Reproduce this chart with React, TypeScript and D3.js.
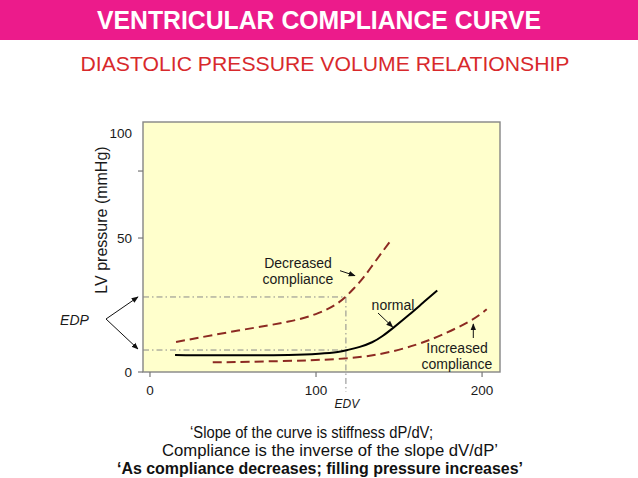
import React from "react";
import * as d3 from "d3";

// ---- data ----
const normalVolume = [15.1, 54.2, 86.1, 102.4, 114.5, 118.1, 126.5, 134.0, 140.0, 146.4, 156.6, 164.5, 173.0];
const normalPressure = [6.3, 6.2, 6.3, 6.8, 7.5, 8.1, 9.3, 11.0, 13.3, 16.4, 21.6, 25.9, 30.4];

const decreasedVolume = [15.7, 54.2, 86.1, 102.4, 112.0, 117.9, 122.5, 128.5, 134.5, 140.5, 145.6];
const decreasedPressure = [11.2, 15.7, 18.8, 22.0, 25.0, 28.0, 31.0, 35.0, 40.3, 45.3, 49.6];

const increasedVolume = [37.8, 78.3, 114.5, 138.6, 160.7, 174.7, 194.8, 202.8];
const increasedPressure = [3.6, 4.0, 4.7, 6.3, 10.1, 13.4, 19.4, 23.4];

const xTickValues = [0, 100, 200];
const xTickLabels = ["0", "100", "200"];
const yTickValues = [0, 50, 75, 89];
const yTickLabels = ["0", "50", "", "100"];

const edv = 118;
const edpHigh = 28;
const edpLow = 8.2;

const title = "VENTRICULAR COMPLIANCE CURVE";
const subtitle = "DIASTOLIC PRESSURE VOLUME RELATIONSHIP";
const yAxisTitle = "LV pressure (mmHg)";
const notes = [
  "\u2018Slope of the curve is stiffness dP/dV;",
  "Compliance is the inverse of the slope dV/dP\u2019",
];
const boldNote = "\u2018As compliance decreases; filling pressure increases\u2019";

// ---- layout ----
const W = 638;
const H = 478;
const plot = { left: 143, right: 500, top: 122, bottom: 372 };

const font = "Arial, 'Liberation Sans', sans-serif";
const dashRed = "#8c2a22";
const textCol = "#1a1a1a";

export default function App() {
  const x = d3.scaleLinear().domain([-4.2, 210.8]).range([plot.left, plot.right]);
  const y = d3.scaleLinear().domain([0, 93.3]).range([plot.bottom, plot.top]);

  const line = d3
    .line<[number, number]>()
    .x((d) => x(d[0]))
    .y((d) => y(d[1]))
    .curve(d3.curveBasis);

  const zip = (a: number[], b: number[]) => a.map((v, i) => [v, b[i]] as [number, number]);

  const normalPath = line(zip(normalVolume, normalPressure)) || "";
  const decreasedPath = line(zip(decreasedVolume, decreasedPressure)) || "";
  const increasedPath = line(zip(increasedVolume, increasedPressure)) || "";

  const refDash = "6,3,1.5,3";
  const refCol = "#8a8a8a";

  return (
    <svg
      width={W}
      height={H}
      viewBox={`0 0 ${W} ${H}`}
      style={{ position: "fixed", left: 0, top: 0, display: "block", background: "#ffffff" }}
      fontFamily={font}
    >
      <defs>
        <marker id="arr" viewBox="0 0 10 10" refX="9" refY="5" markerWidth="7" markerHeight="7" orient="auto" markerUnits="userSpaceOnUse">
          <path d="M0,1 L10,5 L0,9 Z" fill="#111" />
        </marker>
      </defs>

      {/* header */}
      <rect x={0} y={0} width={W} height={40} fill="#ec1b8b" />
      <text x={319} y={29} textAnchor="middle" fill="#ffffff" fontSize={25} fontWeight="bold" textLength={444} lengthAdjust="spacingAndGlyphs">
        {title}
      </text>
      <text x={325} y={71} textAnchor="middle" fill="#d8292c" fontSize={21} textLength={489} lengthAdjust="spacingAndGlyphs">
        {subtitle}
      </text>

      {/* plot area */}
      <rect
        x={plot.left}
        y={plot.top}
        width={plot.right - plot.left}
        height={plot.bottom - plot.top}
        fill="#ffffcc"
        stroke="#858585"
        strokeWidth={1.4}
      />

      {/* y axis ticks */}
      {yTickValues.map((v, i) => (
        <g key={"y" + i} transform={`translate(${plot.left},${y(v)})`}>
          {yTickLabels[i] !== "100" && <line x1={-5} x2={0} stroke="#777" strokeWidth={1.2} />}
          <text x={-11} dy="0.35em" textAnchor="end" fontSize={13.5} fill={textCol}>
            {yTickLabels[i]}
          </text>
        </g>
      ))}

      {/* x axis ticks */}
      {xTickValues.map((v, i) => (
        <g key={"x" + i} transform={`translate(${x(v)},${plot.bottom})`}>
          <line y1={0} y2={5} stroke="#777" strokeWidth={1.2} />
          <text y={22.7} textAnchor="middle" fontSize={13.5} fill={textCol}>
            {xTickLabels[i]}
          </text>
        </g>
      ))}

      {/* y axis title */}
      <text transform="translate(107,220) rotate(-90)" textAnchor="middle" fontSize={16} fill={textCol}>
        {yAxisTitle}
      </text>

      {/* EDP / EDV reference lines */}
      <line x1={plot.left} x2={x(edv)} y1={y(edpHigh)} y2={y(edpHigh)} stroke={refCol} strokeWidth={1} strokeDasharray={refDash} />
      <line x1={plot.left} x2={x(edv)} y1={y(edpLow)} y2={y(edpLow)} stroke={refCol} strokeWidth={1} strokeDasharray={refDash} />
      <line x1={x(edv)} x2={x(edv)} y1={y(edpHigh)} y2={392} stroke={refCol} strokeWidth={1} strokeDasharray={refDash} />

      {/* curves */}
      <path d={decreasedPath} fill="none" stroke={dashRed} strokeWidth={2} strokeDasharray="9,5" />
      <path d={increasedPath} fill="none" stroke={dashRed} strokeWidth={2} strokeDasharray="9,5" />
      <path d={normalPath} fill="none" stroke="#000" strokeWidth={2} />

      {/* annotations */}
      <text x={298} y={267.5} textAnchor="middle" fontSize={14} fill={textCol}>Decreased</text>
      <text x={298} y={284} textAnchor="middle" fontSize={14} fill={textCol}>compliance</text>
      <line x1={340} y1={270.7} x2={355} y2={275.7} stroke="#111" strokeWidth={1} markerEnd="url(#arr)" />

      <text x={393} y={310} textAnchor="middle" fontSize={14} fill={textCol}>normal</text>
      <line x1={378} y1={313} x2={392.7} y2={327} stroke="#111" strokeWidth={1} markerEnd="url(#arr)" />

      <text x={457} y={352.5} textAnchor="middle" fontSize={14} fill={textCol}>Increased</text>
      <text x={457} y={369} textAnchor="middle" fontSize={14} fill={textCol}>compliance</text>
      <line x1={473.3} y1={338} x2={473.3} y2={324} stroke="#111" strokeWidth={1} markerEnd="url(#arr)" />

      {/* EDP label and arrows */}
      <text x={74.5} y={325} textAnchor="middle" fontSize={14} fontStyle="italic" fill={textCol}>EDP</text>
      <line x1={106} y1={319} x2={138} y2={y(edpHigh)} stroke="#111" strokeWidth={1} markerEnd="url(#arr)" />
      <line x1={106} y1={319} x2={138} y2={y(edpLow) - 1} stroke="#111" strokeWidth={1} markerEnd="url(#arr)" />

      {/* EDV label */}
      <text x={x(edv) + 1} y={407.5} textAnchor="middle" fontSize={12} fontStyle="italic" fill={textCol}>EDV</text>

      {/* bottom notes */}
      <text x={190} y={437.5} fontSize={16} fill="#111" textLength={243} lengthAdjust="spacingAndGlyphs">{notes[0]}</text>
      <text x={162} y={455.8} fontSize={16} fill="#111" textLength={336} lengthAdjust="spacingAndGlyphs">{notes[1]}</text>
      <text x={117} y={474} fontSize={16} fontWeight="bold" fill="#111" textLength={406} lengthAdjust="spacingAndGlyphs">{boldNote}</text>
    </svg>
  );
}
